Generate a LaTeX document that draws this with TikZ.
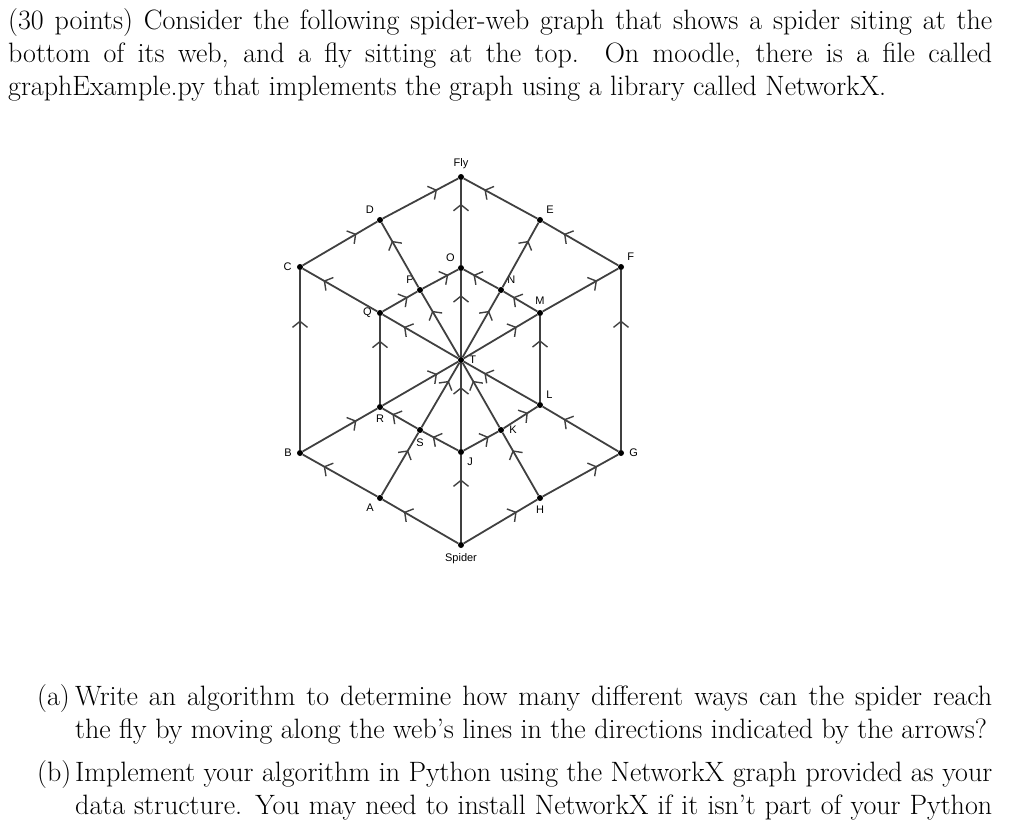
\documentclass[tikz,border=0pt]{standalone}
\usepackage{fontspec}
\newfontfamily\lab{Liberation Sans}
\usetikzlibrary{arrows.meta,decorations.markings,positioning}
\begin{document}
\begin{tikzpicture}[x=1pt,y=-1pt,
  v/.style={circle,fill=black,inner sep=0pt,minimum size=6pt},
  lb/.style={font=\lab\fontsize{11}{12}\selectfont,inner sep=1pt},
  e/.style={draw=black!75,line width=1.8pt,postaction={decorate},
    decoration={markings,mark=at position #1 with {\arrow[black!75,line width=1.4pt]{Straight Barb[length=6pt,width=15pt]}}}},
  e/.default=0.72,
  txt/.style={anchor=base west,inner sep=0pt,font=\fontsize{28}{30}\selectfont}]
\useasboundingbox (0,0) rectangle (1024,838);
\node[txt] (t1) at (8,29) {\makebox[984pt][s]{(30 points) Consider the following spider-web graph that shows a spider siting at the}};
\node[txt] (t2) at (8,62) {\makebox[984pt][s]{bottom of its web, and a fly sitting at the top. On moodle, there is a file called}};
\node[txt] (t3) at (8,95) {graphExample.py that implements the graph using a library called NetworkX.};
\node[txt] (a0) at (37,705) {(a)};
\node[txt] (a1) at (75,705) {\makebox[917pt][s]{Write an algorithm to determine how many different ways can the spider reach}};
\node[txt] (a2) at (75,738) {the fly by moving along the web's lines in the directions indicated by the arrows?};
\node[txt] (b0) at (37,781) {(b)};
\node[txt] (b1) at (75,781) {\makebox[917pt][s]{Implement your algorithm in Python using the NetworkX graph provided as your}};
\node[txt] (b2) at (75,814) {\makebox[917pt][s]{data structure. You may need to install NetworkX if it isn't part of your Python}};
% vertices
\foreach \n/\x/\y in {Fly/461/177,D/380/220,E/540/220,C/300/267,F/621/267,O/461/268,P/420/290,N/501/290,Q/380/313,M/540/313,T/461/360,R/380/407,L/540/405,S/420/430,K/501/430,B/300/453,G/621/453,J/461/452,A/380/498,H/540/498,Spider/461/545}
  \node[v] (\n) at (\x,\y) {};
\foreach \n/\p in {Fly/above,D/above left,E/above right,C/left,F/above right,O/above left,P/above left,N/above right,Q/left,M/above,T/right,R/below,L/above right,S/below,K/right,B/left,G/right,J/below right,A/below left,H/below,Spider/below}
  \node[lb,\p=4pt of \n] (l\n) {\n};
\foreach \a/\b in {Spider/A,Spider/J,Spider/H,A/B,A/S,H/G,H/K,J/S,J/K,J/T,B/R,B/C,S/R,S/T,K/L,K/T,G/L,G/F,R/T,R/Q,L/T,L/M,T/Q,T/P,T/O,T/N,T/M,Q/C,Q/P,P/O,P/D,N/O,N/E,M/N,M/F,C/D,D/Fly,O/Fly,E/Fly,F/E}
  \draw[e] (\a) -- (\b);
\end{tikzpicture}
\end{document}
